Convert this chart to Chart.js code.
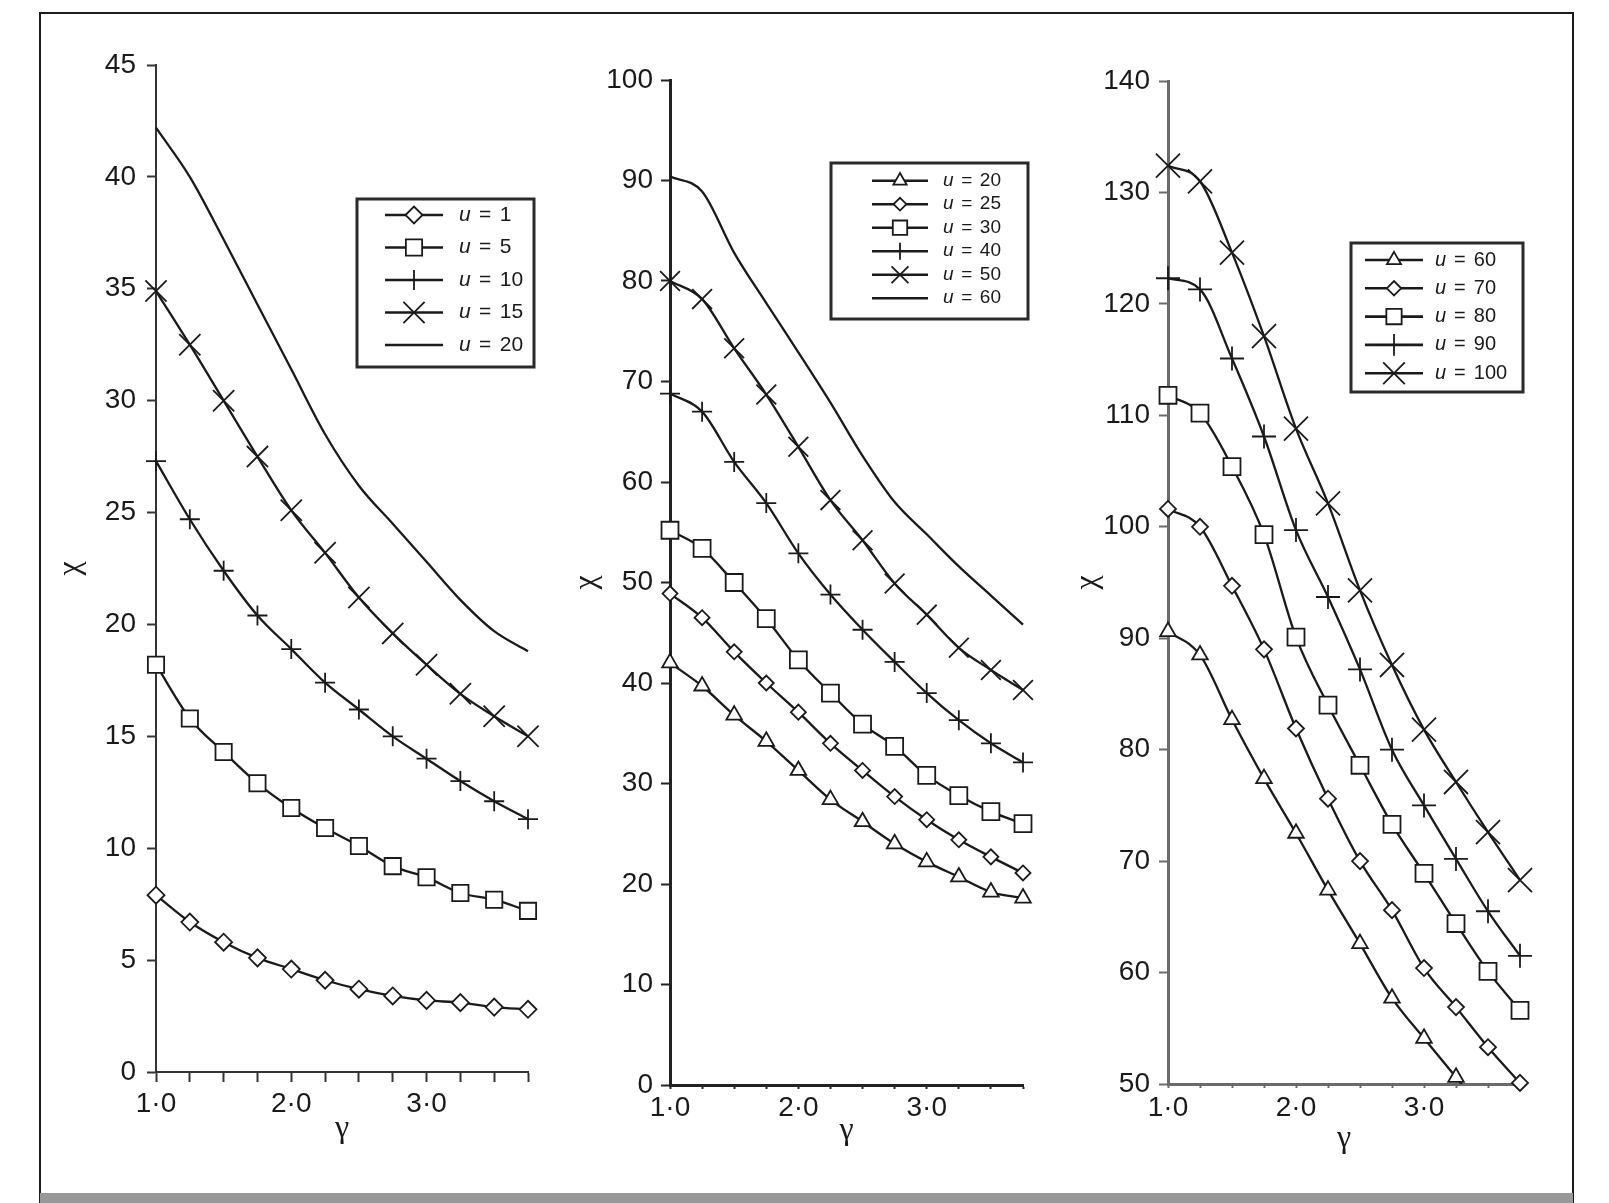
<!DOCTYPE html>
<html>
<head>
<meta charset="utf-8">
<script src="https://cdn.jsdelivr.net/npm/chart.js@4.4.0/dist/chart.umd.min.js"></script>
<style>
  html, body { margin: 0; padding: 0; background: #fff; overflow: hidden; width: 1609px; height: 1203px; }
  #frame { position: absolute; left: 39px; top: 12px; width: 1535px; height: 1200px; border: 2px solid #1c1c1c; box-sizing: border-box; }
  #bar { position: absolute; left: 40px; top: 1193px; width: 1533px; height: 10px; background: #989898; }
  canvas { position: absolute; }
</style>
</head>
<body>
<div id="frame"></div>
<canvas id="p1" width="500" height="1165" style="left:45px;top:20px"></canvas>
<canvas id="p2" width="490" height="1165" style="left:555px;top:20px"></canvas>
<canvas id="p3" width="510" height="1165" style="left:1055px;top:20px"></canvas>
<div id="bar"></div>
<script>
"use strict";

const INK = "#1a1a1a";

// shared x values (gamma) and labelled x ticks
const GAMMA = [1.0, 1.25, 1.5, 1.75, 2.0, 2.25, 2.5, 2.75, 3.0, 3.25, 3.5, 3.75];
const X_TICK_AT = [1, 2, 3];
const X_TICK_TEXT = ["1·0", "2·0", "3·0"];

// left panel
const P1_LABELS = ["1", "5", "10", "15", "20"];
const P1_U1 = [7.9, 6.7, 5.8, 5.1, 4.6, 4.1, 3.7, 3.4, 3.2, 3.1, 2.9, 2.8];
const P1_U5 = [18.2, 15.8, 14.3, 12.9, 11.8, 10.9, 10.1, 9.2, 8.7, 8.0, 7.7, 7.2];
const P1_U10 = [27.3, 24.7, 22.4, 20.4, 18.9, 17.4, 16.2, 15.0, 14.0, 13.0, 12.1, 11.3];
const P1_U15 = [34.9, 32.5, 30.0, 27.5, 25.1, 23.2, 21.2, 19.6, 18.2, 16.9, 15.9, 15.0];
const P1_U20 = [42.2, 40.0, 37.2, 34.3, 31.4, 28.5, 26.2, 24.5, 22.8, 21.1, 19.7, 18.8];

// middle panel
const P2_LABELS = ["20", "25", "30", "40", "50", "60"];
const P2_U20 = [42.0, 39.7, 36.8, 34.2, 31.3, 28.4, 26.2, 24.0, 22.2, 20.7, 19.2, 18.6];
const P2_U25 = [48.9, 46.5, 43.1, 40.0, 37.1, 34.0, 31.3, 28.7, 26.4, 24.4, 22.7, 21.1];
const P2_U30 = [55.2, 53.4, 50.0, 46.4, 42.3, 39.0, 35.9, 33.7, 30.8, 28.8, 27.2, 26.0];
const P2_U40 = [68.8, 67.0, 62.0, 57.9, 52.9, 48.8, 45.3, 42.1, 39.0, 36.3, 34.0, 32.1];
const P2_U50 = [80.0, 78.2, 73.3, 68.7, 63.5, 58.2, 54.2, 49.9, 46.8, 43.5, 41.3, 39.3];
const P2_U60 = [90.4, 88.9, 82.8, 77.8, 72.9, 67.9, 62.6, 58.0, 54.8, 51.6, 48.7, 45.8];

// right panel
const P3_LABELS = ["60", "70", "80", "90", "100"];
const P3_U60 = [90.6, 88.5, 82.7, 77.4, 72.5, 67.4, 62.6, 57.7, 54.1, 50.6, 47.0, 43.8];
const P3_U70 = [101.6, 100.0, 94.7, 89.0, 81.9, 75.6, 70.0, 65.6, 60.4, 56.9, 53.3, 50.1];
const P3_U80 = [111.8, 110.2, 105.4, 99.3, 90.1, 84.0, 78.6, 73.3, 68.9, 64.4, 60.1, 56.6];
const P3_U90 = [122.3, 121.3, 115.1, 108.1, 99.7, 93.7, 87.2, 80.0, 75.0, 70.2, 65.5, 61.5];
const P3_U100 = [132.4, 131.0, 124.6, 117.1, 108.8, 102.1, 94.3, 87.6, 81.8, 77.1, 72.6, 68.3];

Chart.defaults.font.family = '"Liberation Sans", Arial, sans-serif';
Chart.defaults.color = INK;

// legend drawn as a framed box inside the plot, line sample with marker through it
const boxLegend = {
  id: "boxLegend",
  afterDraw(chart, args, o) {
    const ctx = chart.ctx;
    ctx.save();
    ctx.fillStyle = "#fff";
    ctx.fillRect(o.x, o.y, o.w, o.h);
    ctx.lineWidth = 3;
    ctx.strokeStyle = "#2a2a2a";
    ctx.strokeRect(o.x, o.y, o.w, o.h);
    chart.data.datasets.forEach((ds, i) => {
      const y = o.rowY + i * o.rowH;
      ctx.strokeStyle = INK;
      ctx.lineWidth = 2.6;
      ctx.beginPath();
      ctx.moveTo(o.x0, y);
      ctx.lineTo(o.x1, y);
      ctx.stroke();
      if (ds.pointRadius > 0) {
        ctx.fillStyle = "#fff";
        ctx.lineWidth = ds.pointBorderWidth;
        Chart.helpers.drawPoint(ctx, {
          pointStyle: ds.pointStyle, radius: ds.pointRadius * o.mk, rotation: 0, borderWidth: ds.pointBorderWidth,
        }, (o.x0 + o.x1) / 2, y);
      }
      // "u = n" with the u in italics and wide gaps round the equals sign
      const gap = o.size * 0.4;
      ctx.fillStyle = INK;
      ctx.textBaseline = "middle";
      ctx.textAlign = "left";
      ctx.font = `italic ${o.size}px "Liberation Sans", Arial, sans-serif`;
      ctx.fillText("u", o.tx, y);
      let cx = o.tx + ctx.measureText("u").width + gap;
      ctx.font = `${o.size}px "Liberation Sans", Arial, sans-serif`;
      ctx.fillText("=", cx, y);
      cx += ctx.measureText("=").width + gap;
      ctx.fillText(ds.label, cx, y);
    });
    ctx.restore();
  },
};

function series(label, values, style, radius) {
  return {
    label,
    data: GAMMA.map((g, i) => ({ x: g, y: values[i] })),
    borderColor: INK,
    borderWidth: 2.3,
    cubicInterpolationMode: "monotone",
    pointStyle: style || "circle",
    pointRadius: style ? radius : 0,
    pointBackgroundColor: "#fff",
    pointBorderColor: INK,
    pointBorderWidth: 1.8,
    clip: false,
  };
}

function xLabel(v) {
  const k = X_TICK_AT.findIndex((t) => Math.abs(t - v) < 1e-6);
  return k >= 0 ? X_TICK_TEXT[k] : "";
}

function makePanel(id, p) {
  return new Chart(document.getElementById(id), {
    type: "line",
    data: { datasets: p.datasets },
    options: {
      responsive: false,
      animation: false,
      events: [],
      layout: { padding: { top: p.padTop, right: p.padRight, left: 0, bottom: 0 } },
      plugins: { legend: { display: false }, tooltip: { enabled: false }, boxLegend: p.legend },
      scales: {
        x: {
          type: "linear",
          min: 1, max: 3.75,
          afterFit: (s) => { s.height = p.xHeight; },
          border: { display: true, color: p.axisColor, width: p.axisWidth },
          grid: { drawOnChartArea: false, drawTicks: true, tickLength: p.xTick, tickColor: p.axisColor, tickWidth: 2 },
          ticks: { stepSize: 0.25, autoSkip: false, maxRotation: 0, padding: p.xPad, font: { size: 28 }, color: INK, callback: xLabel },
          title: { display: true, text: "γ", color: INK, font: { family: '"Liberation Serif", serif', size: 32 }, padding: { top: 0, bottom: p.xTitlePad } },
        },
        y: {
          type: "linear",
          min: p.yMin, max: p.yMax,
          afterFit: (s) => { s.width = p.yWidth; },
          border: { display: true, color: p.axisColor, width: p.axisWidth },
          grid: { drawOnChartArea: false, drawTicks: true, tickLength: 9, tickColor: p.axisColor, tickWidth: 2 },
          ticks: { stepSize: p.yStep, padding: p.yPad, font: { size: 28 }, color: INK },
          title: { display: true, text: "χ", color: INK, font: { family: '"Liberation Serif", serif', size: 32 }, padding: { top: p.yTitlePad, bottom: 0 } },
        },
      },
    },
    plugins: [boxLegend],
  });
}

makePanel("p1", {
  datasets: [
    series(P1_LABELS[0], P1_U1, "rectRot", 8.5),
    series(P1_LABELS[1], P1_U5, "rect", 11.5),
    series(P1_LABELS[2], P1_U10, "cross", 10),
    series(P1_LABELS[3], P1_U15, "crossRot", 15),
    series(P1_LABELS[4], P1_U20, null, 0),
  ],
  yMin: 0, yMax: 45, yStep: 5,
  padTop: 45, padRight: 17, xHeight: 113, yWidth: 111,
  axisColor: "#333", axisWidth: 2, xTick: 10, xPad: 5, yPad: 11,
  xTitlePad: 37, yTitlePad: 6,
  legend: { x: 312, y: 179, w: 177, h: 168, rowY: 195, rowH: 32.5, x0: 340, x1: 398, tx: 414, size: 21, mk: 1 },
});

makePanel("p2", {
  datasets: [
    series(P2_LABELS[0], P2_U20, "triangle", 9),
    series(P2_LABELS[1], P2_U25, "rectRot", 7.5),
    series(P2_LABELS[2], P2_U30, "rect", 12),
    series(P2_LABELS[3], P2_U40, "cross", 10),
    series(P2_LABELS[4], P2_U50, "crossRot", 14),
    series(P2_LABELS[5], P2_U60, null, 0),
  ],
  yMin: 0, yMax: 100, yStep: 10,
  padTop: 60, padRight: 22, xHeight: 100, yWidth: 115,
  axisColor: "#222", axisWidth: 3, xTick: 4, xPad: 2, yPad: 8,
  xTitlePad: 35, yTitlePad: 12,
  legend: { x: 276, y: 143, w: 197, h: 156, rowY: 160.7, rowH: 23.5, x0: 317, x1: 373, tx: 388, size: 19, mk: 0.85 },
});

makePanel("p3", {
  datasets: [
    Object.assign(series(P3_LABELS[0], P3_U60, "triangle", 9), { clip: { left: false, top: false, right: false, bottom: 0 } }),
    series(P3_LABELS[1], P3_U70, "rectRot", 8),
    series(P3_LABELS[2], P3_U80, "rect", 12),
    series(P3_LABELS[3], P3_U90, "cross", 12),
    series(P3_LABELS[4], P3_U100, "crossRot", 17),
  ],
  yMin: 50, yMax: 140, yStep: 10,
  padTop: 61, padRight: 45, xHeight: 101, yWidth: 113,
  axisColor: "#6a6a6a", axisWidth: 3, xTick: 4, xPad: 3, yPad: 9,
  xTitlePad: 27, yTitlePad: 13,
  legend: { x: 296, y: 223, w: 172, h: 149, rowY: 240, rowH: 28.3, x0: 310, x1: 368, tx: 380, size: 20, mk: 0.9 },
});
</script>
</body>
</html>
